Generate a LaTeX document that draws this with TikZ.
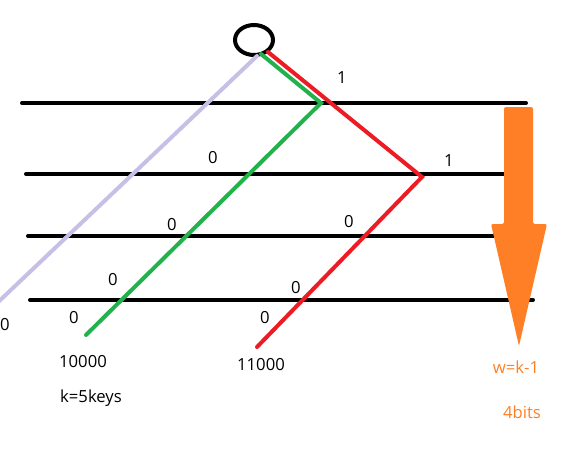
\documentclass[tikz,border=0pt]{standalone}
\usepackage{fontspec}
\setmainfont{Open Sans}
\usetikzlibrary{shapes.geometric}
\definecolor{pgreen}{HTML}{22B14C}
\definecolor{pred}{HTML}{ED1C24}
\definecolor{plav}{HTML}{C8BFE7}
\definecolor{porange}{HTML}{FF7F27}
\tikzset{
  level/.style={draw=black, line width=3pt, line cap=round},
  pathline/.style={line width=3pt, line cap=round, line join=miter},
  bitlbl/.style={inner sep=0pt, font=\fontsize{12.5}{14}\selectfont, text=black},
  keylbl/.style={inner sep=0pt, anchor=base, font=\fontsize{12.5}{14}\selectfont, text=black},
  orlbl/.style={inner sep=0pt, anchor=base, font=\fontsize{12.5}{14}\selectfont, text=porange},
}
\begin{document}
\begin{tikzpicture}[x=0.75pt,y=-0.75pt]
\useasboundingbox (0,0) rectangle (587,454);
% levels
\coordinate (l1a) at (22,103);  \coordinate (l1b) at (526,103);
\coordinate (l2a) at (26,174);  \coordinate (l2b) at (510,174);
\coordinate (l3a) at (28,236);  \coordinate (l3b) at (500,236);
\coordinate (l4a) at (30,300);  \coordinate (l4b) at (533,300);
\draw[level] (l1a) -- (l1b);
\draw[level] (l2a) -- (l2b);
\draw[level] (l3a) -- (l3b);
\draw[level] (l4a) -- (l4b);
% root
\node[draw=black, line width=3pt, ellipse, minimum width=28.5pt, minimum height=22.5pt, inner sep=0pt] (root) at (254,40) {};
% path points
\coordinate (pS) at (257,56);
\coordinate (pE) at (-6,306);
\coordinate (gS) at (261,54);
\coordinate (gB) at (321,103);
\coordinate (gE) at (86,335);
\coordinate (rS) at (268,52);
\coordinate (rB) at (422,177);
\coordinate (rE) at (257,347);
\draw[pathline, draw=plav] (pS) -- (pE);
\draw[pathline, draw=pgreen] (gS) -- (gB) -- (gE);
\draw[pathline, draw=pred] (rS) -- (rB) -- (rE);
% orange arrow
\fill[porange, rounded corners=1.5pt] (504,107) -- (533,107) -- (533,224) -- (547,224) -- (519,346) -- (491,224) -- (504,224) -- cycle;
% bit labels
\node[bitlbl] (b1) at (342,78) {1};
\node[bitlbl] (b2) at (449,161) {1};
\node[bitlbl] (b3) at (213,158) {0};
\node[bitlbl] (b4) at (172,225) {0};
\node[bitlbl] (b5) at (349,222) {0};
\node[bitlbl] (b6) at (113,280) {0};
\node[bitlbl] (b7) at (296,288) {0};
\node[bitlbl] (b8) at (74,318) {0};
\node[bitlbl] (b9) at (265,318) {0};
\node[bitlbl] (b10) at (5,325) {0};
% key labels
\node[keylbl] (k1) at (83,367) {10000};
\node[keylbl] (k2) at (261,370.5) {11000};
\node[keylbl] (k3) at (91,402.5) {k=5keys};
\node[orlbl] (w) at (516,373) {w=k-1};
\node[orlbl] (bits) at (522,418.5) {4bits};
\end{tikzpicture}
\end{document}
